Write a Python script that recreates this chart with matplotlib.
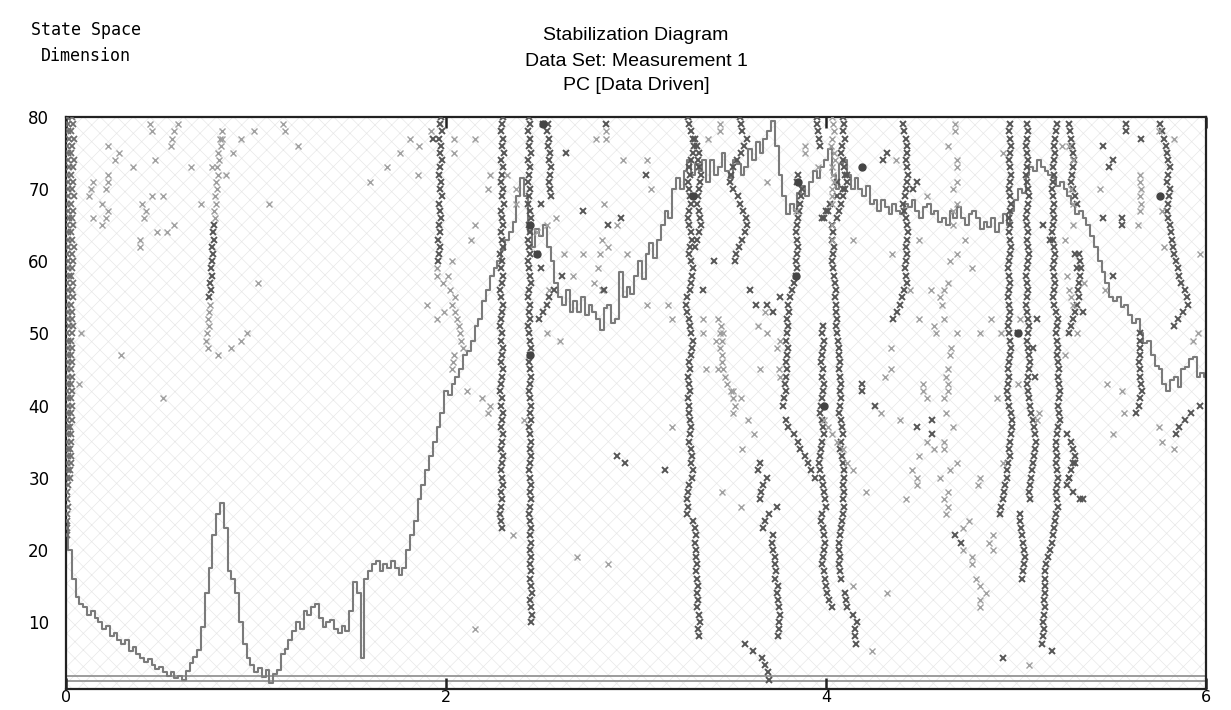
import numpy as np
import matplotlib.pyplot as plt
from matplotlib.patches import Rectangle

# grey spectrum curve, one value every 0.02
line_f = np.round(np.arange(0, 6.0001, 0.02), 2)
line_v = [24, 20, 16, 13.5, 12.5, 12, 11, 11.5, 10.5, 10,
          9, 9.5, 8, 8.5, 7.5, 7, 7.5, 6, 6.5, 5.5,
          5, 4.5, 4.8, 4, 3.5, 3.8, 3, 2.5, 3, 2.2,
          2.5, 2.0, 3.2, 4.3, 5.2, 6.1, 9.3, 14, 17.5, 22,
          25, 26.5, 23, 17, 16, 14, 10, 7, 5, 4,
          3, 3.6, 2.4, 3.3, 1.5, 2.8, 3.4, 5.5, 6.2, 7.5,
          8.8, 10, 9, 11.5, 11, 12, 12.5, 10.5, 9.3, 10,
          10.3, 9, 8.5, 9.5, 8.8, 11.5, 15.5, 14, 5, 16,
          17, 18, 18.5, 17, 18, 17.5, 18.5, 17.5, 16.5, 17.5,
          20, 22, 24, 27, 29, 31, 33, 35, 37, 39,
          42, 41.5, 43, 44, 45, 47, 47.5, 49, 51, 52,
          54.5, 56, 58, 59, 60, 61.5, 63, 64, 65.5, 69,
          71.5, 69, 64, 62, 64.5, 63.5, 65, 62, 60, 57,
          55, 54, 56, 53, 54.5, 53, 55, 52.5, 54, 53,
          52, 50.5, 53.5, 54, 51.5, 52, 58.5, 55, 56.5, 55.5,
          58, 60, 57.5, 61, 62.5, 60.5, 63, 65, 67, 66,
          70, 71.5, 70, 72.5, 74, 72, 73.5, 72.5, 74, 71,
          74, 72, 73, 75, 72.5, 71.5, 74, 73.5, 72, 73,
          75.5, 74, 76.5, 75, 77, 78, 79.5, 76, 72, 69,
          66.5, 68, 67, 69.5, 70.5, 69, 71, 72.5, 71.5, 73,
          74, 75.5, 72, 70, 73.5, 74, 72, 70, 71.5, 70,
          69, 70.5, 68, 68.5, 67, 68.5, 67.5, 66.5, 68, 67,
          66.5, 68, 67.5, 68.5, 67, 66, 67.5, 68, 66.5, 67,
          65.5, 66, 65, 67, 66, 67.5, 66, 65, 66.5, 67,
          66, 64.5, 65.5, 64.8, 66, 64, 65.3, 66.5, 65, 67,
          68.5, 70, 69.5, 72, 73, 72.5, 74, 73, 72.5, 72,
          71.5, 70.5, 71, 70, 69, 68, 66.5, 67, 66, 65,
          63.5, 62, 60, 58.5, 57, 55, 54.5, 55, 53.7, 54,
          52.5, 51.5, 52, 50, 48.7, 49, 47, 45.5, 45, 43,
          42, 43.5, 44, 42.5, 45, 45.3, 46.5, 46.7, 44, 44.5,
          44]

# pole tracks: frequency at each model order, going down from the first order
a1 = [0.006, 0.012, 0.008, 0.014, 0.007, 0.011, 0.009, 0.015, 0.006, 0.012,
      0.008, 0.013, 0.007, 0.010, 0.014, 0.006, 0.011, 0.009, 0.013, 0.007,
      0.012, 0.008, 0.015, 0.006, 0.010, 0.013, 0.007, 0.011, 0.009, 0.014,
      0.006, 0.012, 0.008, 0.010, 0.013, 0.007, 0.011, 0.009, 0.006, 0.012,
      0.008, 0.010, 0.007, 0.011, 0.009, 0.006, 0.010, 0.008, 0.007, 0.009,
      0.006, 0.008, 0.007, 0.006, 0.008, 0.005, 0.007, 0.006, 0.005]
a2 = [0.030, 0.038, 0.026, 0.042, 0.033, 0.028, 0.040, 0.035, 0.024, 0.037,
      0.031, 0.044, 0.027, 0.036, 0.030, 0.039, 0.025, 0.034, 0.041, 0.029,
      0.036, 0.032, 0.027, 0.038, 0.030, 0.035, 0.024, 0.033, 0.029, 0.037,
      0.031, 0.026, 0.034, 0.028, 0.032, 0.025, 0.030, 0.027, 0.033, 0.024,
      0.029, 0.026, 0.031, 0.023, 0.028, 0.025, 0.022, 0.027, 0.024, 0.021,
      0.023]
b1 = [0.82, 0.81, 0.815, 0.80, 0.805, 0.795, 0.80, 0.79, 0.795, 0.785, 0.79, 0.78, 0.785]
b2 = [0.78, 0.775, 0.78, 0.77, 0.775, 0.77, 0.765, 0.77, 0.76, 0.765, 0.755]
b3 = [0.76, 0.75, 0.745, 0.75, 0.74, 0.735, 0.745, 0.80]
c1 = [1.975, 1.97, 1.98, 1.965, 1.975, 1.97, 1.98, 1.97, 1.965, 1.975,
      1.97, 1.98, 1.965, 1.97, 1.975, 1.965, 1.97, 1.96, 1.97, 1.965, 1.96]
c2 = [1.955, 1.95, 1.985, 2.02, 2.045, 2.03, 2.05, 2.06, 2.07, 2.075,
      2.08, 2.09, 2.04, 2.035, 2.03]
d1 = [2.30, 2.295, 2.29, 2.30, 2.295, 2.305, 2.29, 2.30, 2.295, 2.29,
      2.30, 2.295, 2.305, 2.29, 2.295, 2.30, 2.29, 2.295, 2.30, 2.285,
      2.295, 2.29, 2.30, 2.295, 2.285, 2.29, 2.30, 2.295, 2.29, 2.285,
      2.295, 2.29, 2.30, 2.295, 2.29, 2.30, 2.295, 2.29, 2.285, 2.295,
      2.29, 2.30, 2.295, 2.29, 2.30, 2.295, 2.29, 2.30, 2.295, 2.29,
      2.295, 2.30, 2.29, 2.295, 2.29, 2.285, 2.29, 2.295]
e1 = [2.435, 2.44, 2.43, 2.44, 2.435, 2.445, 2.43, 2.44, 2.435, 2.43,
      2.44, 2.435, 2.43, 2.44, 2.445, 2.435, 2.44, 2.43, 2.435, 2.44,
      2.43, 2.435, 2.44, 2.445, 2.435, 2.43, 2.44, 2.435, 2.44, 2.43,
      2.435, 2.44, 2.445, 2.44, 2.435, 2.44, 2.445, 2.44, 2.435, 2.44,
      2.445, 2.44, 2.445, 2.435, 2.44, 2.445, 2.44, 2.445, 2.44, 2.435,
      2.44, 2.445, 2.44, 2.445, 2.44, 2.435, 2.44, 2.445, 2.44, 2.445,
      2.44, 2.445, 2.44, 2.445, 2.44, 2.445, 2.45, 2.44, 2.445, 2.45, 2.445]
f1 = [2.535, 2.53, 2.54, 2.535, 2.545, 2.54, 2.55, 2.545, 2.54, 2.545, 2.55]
g1 = [3.275, 3.28, 3.29, 3.30, 3.305, 3.30, 3.29, 3.28, 3.285, 3.275, 3.28,
      3.285, 3.29, 3.28, 3.275, 3.28, 3.29, 3.295, 3.285, 3.28, 3.29,
      3.30, 3.295, 3.29, 3.285, 3.27, 3.265, 3.27, 3.28, 3.285, 3.29,
      3.30, 3.295, 3.29, 3.28, 3.285, 3.275, 3.28, 3.285, 3.275, 3.28,
      3.28, 3.285, 3.29, 3.285, 3.28, 3.29, 3.295, 3.29, 3.30, 3.295,
      3.28, 3.275, 3.27, 3.275, 3.27, 3.30, 3.31, 3.315, 3.31, 3.315,
      3.315, 3.32, 3.315, 3.32, 3.325, 3.32, 3.325, 3.32, 3.33, 3.335, 3.325, 3.33]
g2 = [3.31, 3.32, 3.33, 3.325, 3.33, 3.34, 3.335, 3.33, 3.325, 3.32, 3.33, 3.335,
      3.34, 3.33, 3.32, 3.31]
h1 = [3.545, 3.55, 3.56, 3.585, 3.57, 3.55, 3.53, 3.51, 3.50, 3.495, 3.51,
      3.535, 3.545, 3.565, 3.58, 3.585, 3.575, 3.56, 3.54, 3.525, 3.52]
h3 = [3.43, 3.445, 3.44, 3.45, 3.44, 3.455, 3.45, 3.46, 3.47, 3.48, 3.50, 3.51, 3.52]
i_up = [3.85, 3.845, 3.875, 3.87, 3.865, 3.86, 3.85, 3.845, 3.84, 3.845,
        3.85, 3.845, 3.84, 3.845, 3.84, 3.83, 3.82, 3.81, 3.80, 3.805,
        3.795, 3.80, 3.795, 3.79, 3.80, 3.795, 3.79, 3.795, 3.79, 3.785,
        3.79, 3.78, 3.775]
i_mid = [3.79, 3.80, 3.83, 3.85, 3.865, 3.89, 3.905, 3.92, 3.94]
i_low = [3.65, 3.64, 3.69, 3.67, 3.66, 3.65, 3.74, 3.70, 3.68, 3.67,
         3.72, 3.716, 3.72, 3.73, 3.73, 3.735, 3.73, 3.745, 3.74, 3.745,
         3.75, 3.76, 3.755, 3.75, 3.745]
i_diag = [3.574, 3.616, 3.663, 3.679, 3.695, 3.70]
j1 = [3.985, 3.98, 3.99, 3.985, 3.98, 3.975, 3.985, 3.98, 3.99, 3.985,
      3.98, 3.975, 3.97, 3.98, 3.985, 3.99, 3.98, 3.975, 3.97, 3.965,
      3.97, 3.98, 3.985, 3.99, 3.995, 4.0, 3.98, 3.975, 3.985, 3.99,
      3.995, 3.99, 3.985, 3.98, 3.99, 3.995, 4.0, 4.005, 4.015, 4.03]
k_up = [4.11, 4.06, 4.09, 4.06, 4.02, 4.0, 3.99, 4.03, 4.035, 4.03, 4.04, 4.035]
k1 = [4.03, 4.035, 4.04, 4.045, 4.05, 4.045, 4.05, 4.055, 4.06, 4.055,
      4.06, 4.065, 4.07, 4.07, 4.075, 4.07, 4.075, 4.08, 4.075, 4.08,
      4.075, 4.07, 4.08, 4.085, 4.09, 4.08, 4.075, 4.085, 4.09, 4.095,
      4.095, 4.09, 4.095, 4.09, 4.095, 4.09, 4.085, 4.08, 4.075, 4.07,
      4.07, 4.075, 4.07, 4.075, 4.08]
k_low = [4.10, 4.105, 4.11, 4.14, 4.163, 4.155, 4.15, 4.158]
u1 = [4.09, 4.095, 4.09, 4.10, 4.085, 4.08, 4.09, 4.095, 4.10, 4.11, 4.10, 4.09, 4.08, 4.07, 4.06]
u2 = [4.03, 4.035, 4.04, 4.03, 4.025, 4.04, 4.045, 4.03, 4.035, 4.04, 4.03]
u3 = [3.955, 3.95, 3.96, 3.965, 3.97]
w1 = [4.405, 4.41, 4.42, 4.425, 4.425, 4.42, 4.425, 4.43, 4.425, 4.42,
      4.415, 4.405, 4.41, 4.42, 4.425, 4.43, 4.425, 4.42, 4.425, 4.42,
      4.415, 4.42, 4.425, 4.41, 4.40, 4.39, 4.375, 4.355]
l1 = [4.97, 4.965, 4.97, 4.975, 4.97, 4.965, 4.97, 4.975, 4.97, 4.965,
      4.97, 4.975, 4.97, 4.965, 4.97, 4.965, 4.97, 4.975, 4.97, 4.965,
      4.96, 4.965, 4.97, 4.965, 4.96, 4.965, 4.97, 4.965, 4.96, 4.965,
      4.97, 4.975, 4.97, 4.965, 4.96, 4.965, 4.96, 4.955, 4.96, 4.965,
      4.975, 4.98, 4.98, 4.975, 4.97, 4.965, 4.97, 4.96, 4.955, 4.95,
      4.94, 4.935, 4.93, 4.92, 4.915]
m1 = [5.06, 5.065, 5.06, 5.055, 5.06, 5.065, 5.06, 5.055, 5.06, 5.065,
      5.07, 5.065, 5.06, 5.055, 5.06, 5.065, 5.06, 5.065, 5.07, 5.065,
      5.06, 5.055, 5.06, 5.065, 5.06, 5.055, 5.06, 5.065, 5.07, 5.065,
      5.06, 5.065, 5.07, 5.075, 5.07, 5.065, 5.06, 5.065, 5.07, 5.075,
      5.08, 5.09, 5.095, 5.10, 5.105, 5.10, 5.095, 5.09, 5.085, 5.08,
      5.075, 5.07, 5.075]
m2 = [5.02, 5.02, 5.025, 5.03, 5.035, 5.04, 5.045, 5.04, 5.035, 5.03]
n1 = [5.215, 5.21, 5.205, 5.20, 5.205, 5.20, 5.195, 5.20, 5.195, 5.19,
      5.195, 5.20, 5.195, 5.20, 5.195, 5.19, 5.195, 5.20, 5.205, 5.20,
      5.195, 5.20, 5.205, 5.20, 5.195, 5.20, 5.21, 5.22, 5.215, 5.21,
      5.215, 5.22, 5.215, 5.22, 5.225, 5.22, 5.225, 5.23, 5.225, 5.22,
      5.225, 5.23, 5.22, 5.215, 5.21, 5.21, 5.215, 5.21, 5.215, 5.22,
      5.215, 5.21, 5.215, 5.22, 5.21, 5.205, 5.20, 5.195, 5.19, 5.18,
      5.17, 5.16, 5.155, 5.15, 5.155, 5.15, 5.145, 5.15, 5.145, 5.14,
      5.145, 5.14, 5.135]
o1 = [5.28, 5.285, 5.29, 5.295, 5.30, 5.305, 5.30, 5.295, 5.29, 5.30, 5.31, 5.32]
o2 = [5.33, 5.335, 5.34, 5.335, 5.33, 5.325, 5.33, 5.32, 5.31, 5.30, 5.29, 5.28]
o3 = [5.27, 5.29, 5.30, 5.31, 5.30, 5.29, 5.28, 5.27, 5.30, 5.335]
p1 = [5.76, 5.77, 5.78, 5.79, 5.795, 5.80, 5.81, 5.80, 5.795, 5.81,
      5.805, 5.80, 5.795, 5.80, 5.81, 5.815, 5.82, 5.825, 5.83, 5.84,
      5.85, 5.86, 5.87, 5.89, 5.90, 5.905, 5.88, 5.855, 5.83]
p2 = [5.97, 5.92, 5.89, 5.86, 5.84]
q1 = [5.655, 5.65, 5.655, 5.65, 5.645, 5.65, 5.655, 5.66, 5.665, 5.65, 5.645, 5.63]

# (first order, frequencies, kind) kind: 0 light, 1 stable, 2 dense band
tracks = [(80, a1, 2), (80, a2, 2),
          (78, b1, 0), (65, b2, 1), (54, b3, 0),
          (80, c1, 1), (59, c2, 0), (80, d1, 1), (80, e1, 1), (79, f1, 1),
          (80, g1, 1), (77, g2, 1), (80, h1, 1), (52, h3, 0),
          (72, i_up, 1), (38, i_mid, 1), (32, i_low, 1), (7, i_diag, 1),
          (51, j1, 1), (72, k_up, 1), (60, k1, 1), (14, k_low, 1),
          (80, u1, 1), (80, u2, 0), (80, u3, 1), (79, w1, 1),
          (79, l1, 1), (79, m1, 1), (25, m2, 1), (79, n1, 1),
          (79, o1, 1), (61, o2, 1), (36, o3, 1),
          (79, p1, 1), (40, p2, 1), (50, q1, 1)]

# single unstable poles (frequency, order)
loose_f = [0.44, 0.59, 0.45, 0.57, 0.56, 0.55, 0.82, 0.22, 0.28, 0.26, 0.35, 0.47, 0.66, 0.77,
           0.84, 0.22, 0.22, 0.14, 0.13, 0.21, 0.12, 0.45, 0.51, 0.19, 0.40, 0.71, 0.22, 0.14,
           0.21, 0.19, 0.42, 0.41, 0.48, 0.53, 0.57, 0.39, 0.39, 0.88, 0.29, 0.51, 0.07, 0.08,
           0.95, 0.92, 0.87, 1.07, 1.01, 0.92, 0.99,
           1.14, 1.15, 1.22, 1.60, 1.69, 1.76, 1.81, 1.85, 1.86, 1.92, 2.04, 2.15, 2.04, 2.23,
           2.22, 2.32, 2.37, 2.37, 2.15, 2.13, 2.03, 2.01, 1.90, 1.99, 1.95, 2.11, 2.19, 2.23,
           2.22, 2.15, 2.35, 2.41, 2.69, 2.85, 3.19,
           2.48, 2.53, 2.58, 2.62, 2.72, 2.67, 2.54, 2.53, 2.60, 2.78, 2.82, 2.83, 2.90, 2.82,
           2.85, 2.81, 2.80, 2.95, 3.06, 2.93, 3.08, 2.84, 2.84, 2.79, 3.06, 3.17, 3.19,
           3.44, 3.44, 3.38, 3.69, 3.84, 3.89, 3.89, 3.96, 4.03, 4.03, 4.03, 4.03, 4.14, 4.37,
           4.53, 4.49, 4.35, 4.44, 4.55, 4.60, 4.49, 4.57, 4.58, 4.34, 4.34, 4.31, 4.51, 4.51,
           4.53,
           3.42, 3.35, 3.35, 3.46, 3.43, 3.37, 3.51, 3.55, 3.65, 3.74, 3.76, 3.75, 3.76, 3.64,
           3.68, 3.69,
           3.59, 3.62, 3.56, 3.51, 3.45, 3.55, 3.99, 4.01, 4.03, 4.06, 4.09, 4.11, 4.14, 4.21,
           4.32, 4.14, 4.24, 4.29, 4.39, 4.53, 4.57, 4.62, 4.49, 4.45, 4.48, 4.48, 4.42,
           4.68, 4.68, 4.64, 4.69, 4.69, 4.69, 4.67, 4.69, 4.67, 4.67, 4.73, 4.69, 4.65, 4.77,
           4.64, 4.62, 4.69, 4.65, 4.64, 4.63, 4.64, 4.62, 4.64, 4.67, 4.69, 4.65, 4.64, 4.62,
           4.64, 4.63, 4.61, 4.62, 4.66, 4.63, 4.62, 4.60,
           4.90, 4.92, 4.81, 4.87, 5.02, 5.01, 5.32, 5.27, 5.26, 5.48, 5.56, 4.93, 5.24, 5.28,
           5.30, 5.30, 5.26, 5.44, 5.65, 5.65, 5.66, 5.65, 5.66, 5.65, 5.77, 5.78, 5.97, 5.96,
           5.93, 5.83, 5.75, 5.29, 5.30, 5.28, 5.29, 5.30, 5.36, 5.47, 5.64,
           4.81, 4.80, 4.75, 4.72, 4.72, 4.88, 4.86, 4.88, 4.77, 4.77, 4.79, 4.81, 4.84, 4.81,
           4.81, 4.93, 5.57, 5.51, 5.75, 5.77, 5.83, 5.07, 5.12, 5.11]
loose_n = [79, 79, 78, 78, 77, 76, 77, 76, 75, 74, 73, 74, 73, 73,
           72, 72, 71, 71, 70, 70, 69, 69, 69, 68, 68, 68, 67, 66,
           66, 65, 67, 66, 64, 64, 65, 63, 62, 75, 47, 41, 43, 50,
           50, 49, 48, 68, 57, 77, 78,
           79, 78, 76, 71, 73, 75, 77, 72, 76, 78, 77, 77, 75, 72,
           70, 72, 70, 68, 65, 63, 60, 58, 54, 53, 52, 42, 41, 40,
           39, 9, 22, 38, 19, 18, 37,
           64, 65, 66, 61, 61, 58, 56, 50, 49, 57, 56, 68, 65, 63,
           62, 61, 59, 61, 74, 74, 70, 78, 77, 77, 54, 54, 52,
           79, 78, 77, 71, 67, 76, 75, 73, 69, 68, 65, 63, 63, 74,
           69, 63, 61, 56, 56, 55, 52, 51, 50, 48, 45, 44, 43, 42,
           41,
           49, 52, 50, 50, 45, 45, 42, 41, 45, 48, 49, 45, 44, 51,
           53, 50,
           38, 36, 34, 39, 28, 26, 38, 37, 36, 35, 34, 32, 31, 28,
           14, 15, 6, 39, 38, 35, 34, 34, 33, 31, 30, 29, 27,
           79, 78, 76, 74, 73, 71, 70, 68, 67, 65, 63, 61, 60, 59,
           57, 56, 50, 47, 45, 44, 43, 41, 42, 37, 32, 31, 28, 27,
           26, 25, 54, 52, 48, 39, 35, 30,
           41, 50, 50, 52, 52, 43, 50, 58, 47, 43, 42, 75, 76, 76,
           74, 65, 63, 70, 72, 71, 70, 69, 68, 67, 67, 62, 61, 50,
           49, 77, 78, 70, 68, 56, 55, 54, 57, 56, 65,
           30, 29, 24, 23, 20, 22, 21, 20, 19, 18, 16, 15, 14, 13,
           12, 32, 39, 36, 37, 35, 34, 4, 39, 38]

# single stable poles
solo_f = [1.93, 2.51, 2.50, 2.48, 2.50, 2.54, 2.53, 2.51, 2.49, 2.61, 2.57, 2.72, 2.92, 2.85,
          2.83, 3.05, 2.63, 2.90, 2.94, 3.15, 3.30, 3.41, 3.35, 4.19, 4.19, 4.26, 4.48, 4.56,
          4.56, 4.32, 4.30, 4.48, 4.46, 4.68, 4.71, 4.93, 5.19, 5.46, 5.51, 5.49, 5.46, 5.56,
          5.56, 5.14, 5.18, 5.31, 5.32, 5.51, 5.35, 5.11, 5.01, 5.09, 5.10, 5.58, 5.58, 5.66,
          5.35, 5.31, 5.28, 3.60, 3.63, 3.69, 3.72, 3.76, 4.01, 3.98, 2.84]
solo_n = [77, 79, 68, 61, 59, 55, 54, 53, 52, 58, 56, 67, 66, 65,
          56, 72, 75, 33, 32, 31, 69, 60, 56, 43, 42, 40, 37, 38,
          36, 75, 74, 71, 70, 22, 21, 5, 6, 76, 74, 73, 66, 66,
          65, 65, 63, 61, 59, 58, 53, 52, 50, 48, 44, 79, 78, 77,
          27, 32, 30, 56, 54, 54, 53, 55, 67, 66, 79]

# heavier dots
dot_f = [2.51, 2.48, 2.44, 5.01, 5.76, 3.99, 3.30, 4.19, 3.84, 3.85, 2.44]
dot_n = [79, 61, 65, 50, 69, 40, 69, 73, 58, 71, 47]

plt.rcParams['hatch.linewidth'] = 0.5

fig = plt.figure(figsize=(12.31, 7.10), dpi=100)
ax = fig.add_axes([66 / 1231, 21 / 710, 1140 / 1231, 572 / 710])

ax.add_patch(Rectangle((0, 0), 1, 1, transform=ax.transAxes, facecolor='white',
                       edgecolor='#e8e8e8', hatch='xx', lw=0, zorder=0))

ax.axhline(2.5, color='#8c8c8c', lw=1.2, zorder=1)
ax.axhline(1.85, color='#8c8c8c', lw=1.2, zorder=1)

ax.plot(line_f, line_v, drawstyle='steps-mid', color='#7b7b7b', lw=1.5, zorder=2)

for start, freqs, kind in tracks:
    orders = start - np.arange(len(freqs))
    if kind == 1:
        ax.plot(freqs, orders, 'x', ms=4.5, mew=1.4, color='#555555', zorder=3)
    elif kind == 2:
        ax.plot(freqs, orders, 'x', ms=4.5, mew=1.3, color='#6e6e6e', zorder=3)
    else:
        ax.plot(freqs, orders, 'x', ms=4.2, mew=1.0, color='#9c9c9c', zorder=3)

ax.plot(loose_f, loose_n, 'x', ms=4.2, mew=1.0, color='#a0a0a0', zorder=3)
ax.plot(solo_f, solo_n, 'x', ms=4.5, mew=1.4, color='#555555', zorder=3)
ax.plot(dot_f, dot_n, 'o', ms=5, color='#444444', zorder=4)

ax.set_xlim(0, 6)
ax.set_ylim(0.7, 80)
ax.set_xticks([0, 2, 4, 6])
ax.set_yticks(range(10, 81, 10))
ax.tick_params(axis='x', direction='in', length=8, width=1.8, top=True,
               labelsize=11.5, pad=1, color='#222222')
ax.tick_params(axis='y', length=0, pad=12, labelsize=12)
for s in ax.spines.values():
    s.set_linewidth(1.6)
    s.set_color('#222222')

title_x = 636 / 1231
fig.text(title_x, 1 - 36 / 710, 'Stabilization Diagram', ha='center', va='center',
         family='Liberation Sans', fontsize=14)
fig.text(title_x, 1 - 61 / 710, 'Data Set: Measurement 1', ha='center', va='center',
         family='Liberation Sans', fontsize=14)
fig.text(title_x, 1 - 86 / 710, 'PC [Data Driven]', ha='center', va='center',
         family='Liberation Sans', fontsize=14)
fig.text(86 / 1231, 1 - 30 / 710, 'State Space', ha='center', va='center',
         family='DejaVu Sans Mono', fontsize=12)
fig.text(86 / 1231, 1 - 56 / 710, 'Dimension', ha='center', va='center',
         family='DejaVu Sans Mono', fontsize=12)

fig.savefig('out.png', dpi=100)
